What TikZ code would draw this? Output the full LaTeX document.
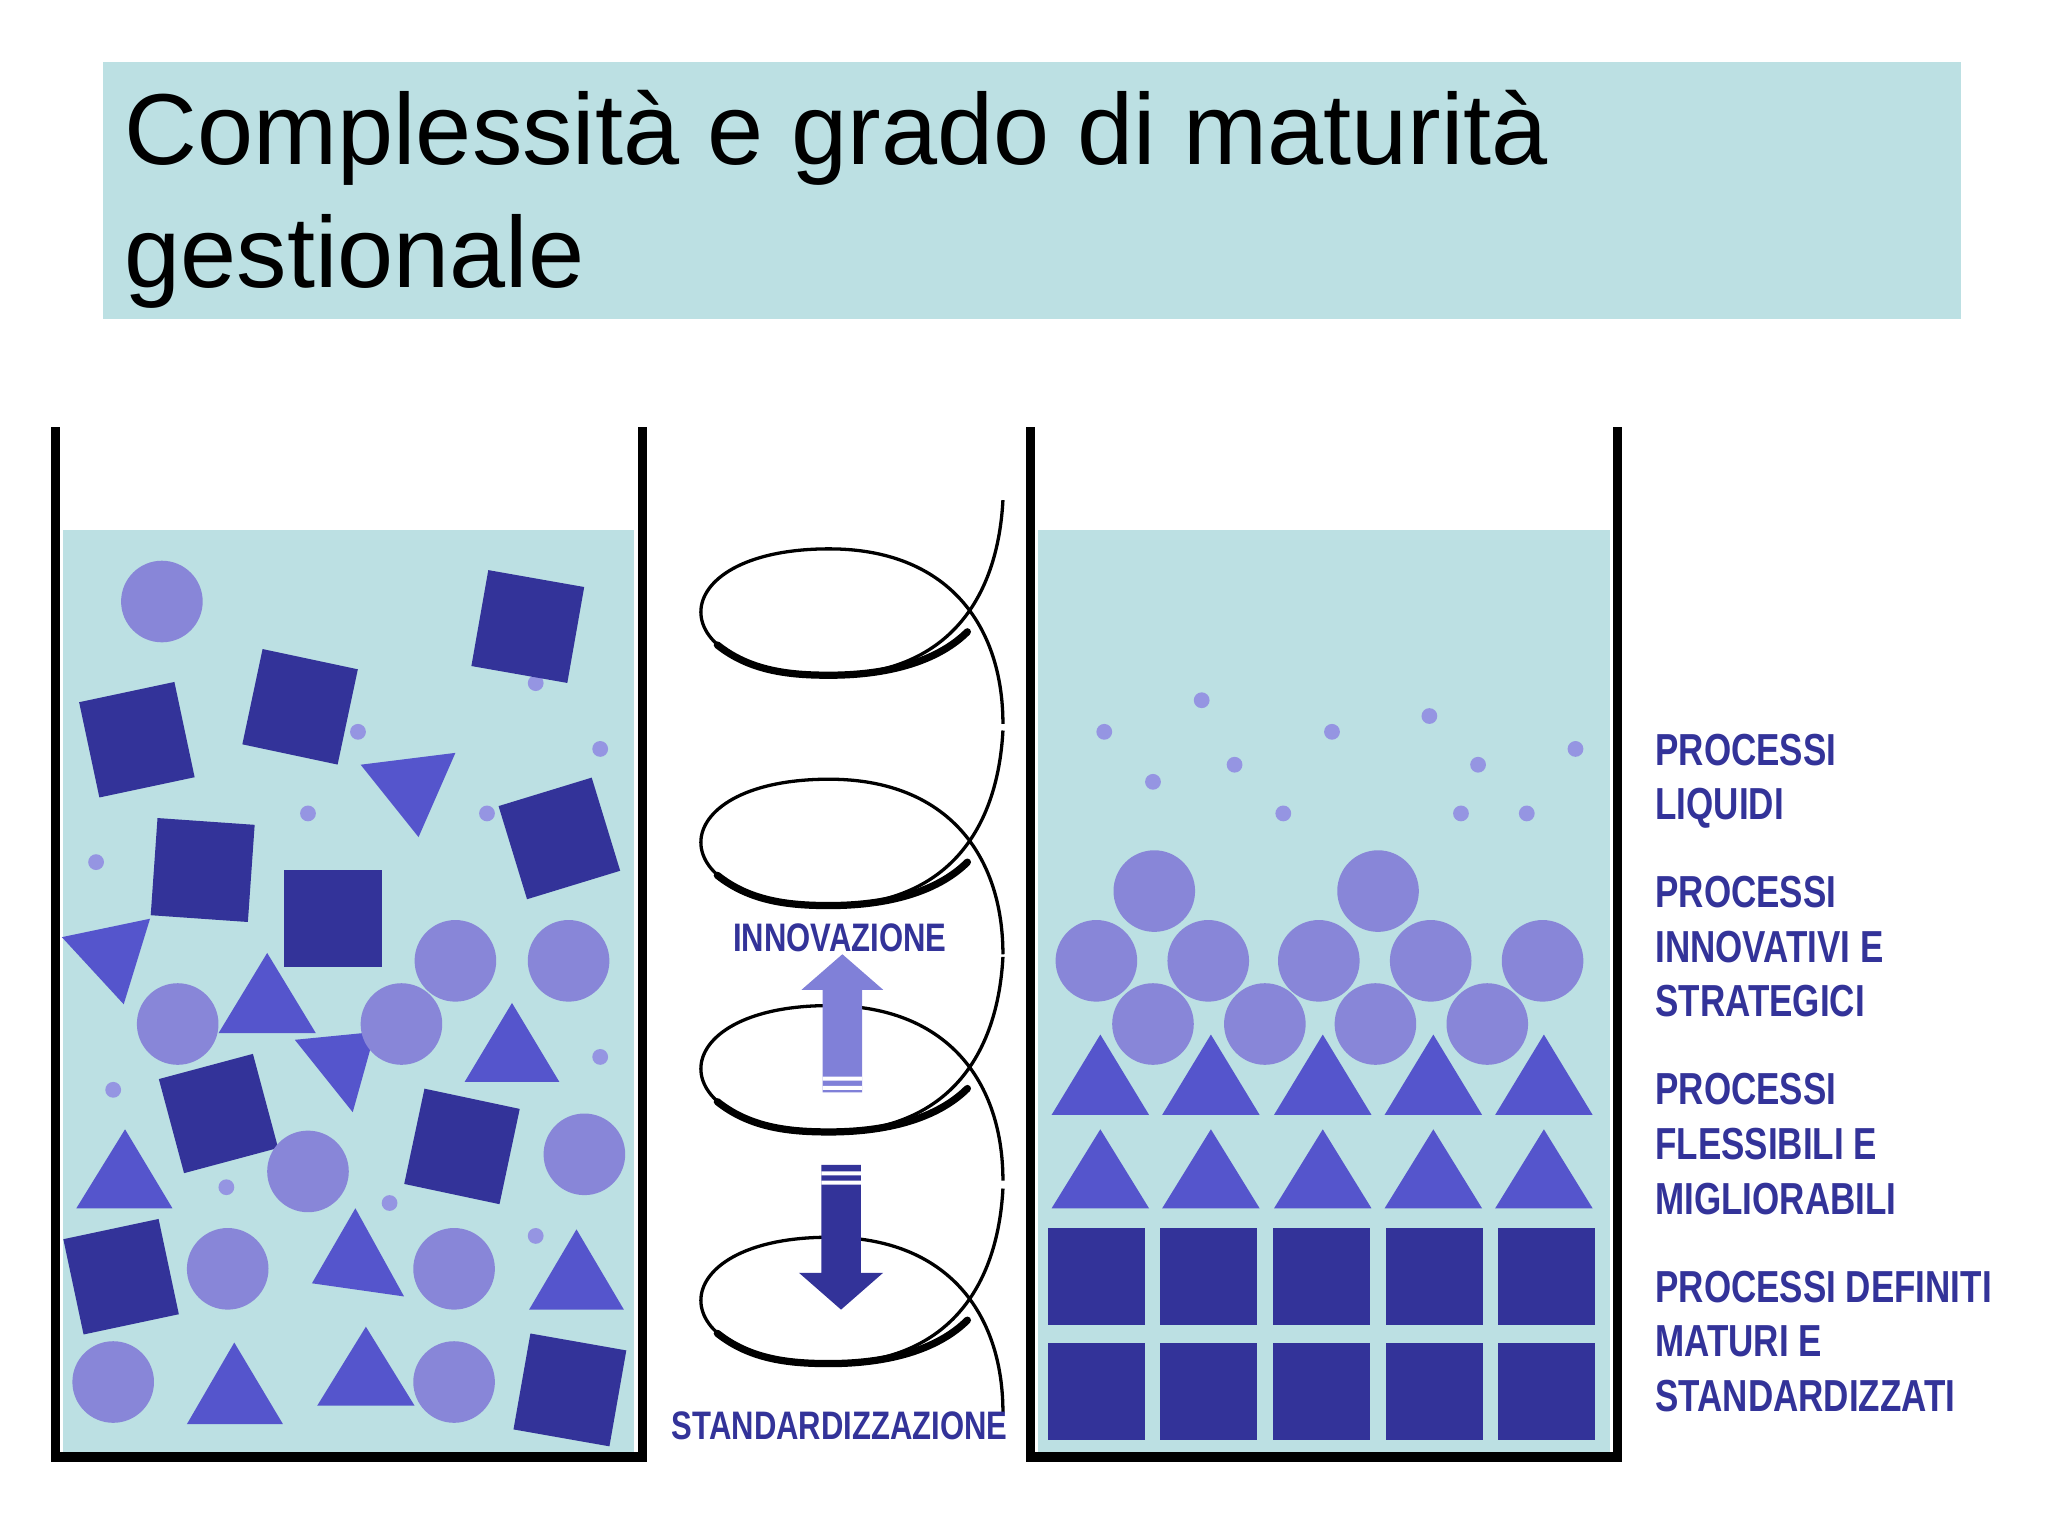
\documentclass[tikz,border=0pt]{standalone}
\usepackage{fontspec}
\setmainfont{Liberation Sans}
\usetikzlibrary{arrows.meta}
\definecolor{water}{HTML}{BCE0E3}
\definecolor{circc}{HTML}{8886D8}
\definecolor{sqc}{HTML}{333399}
\definecolor{tric}{HTML}{5555CC}
\definecolor{dotc}{HTML}{9595E2}
\definecolor{upc}{HTML}{8080D8}
\newcommand{\lbl}[1]{\scalebox{0.78}[1]{#1}}
\begin{document}
\begin{tikzpicture}[x=0.1mm,y=-0.1mm,
    circ/.style={circle, fill=circc, minimum size=6.2mm, inner sep=0pt},
    sqbox/.style={fill=sqc, minimum size=7.4mm, inner sep=0pt, rotate=#1},
    sqbox/.default=0,
    tri/.style={fill=tric},
    dotn/.style={circle, fill=dotc, minimum size=1.2mm, inner sep=0pt},
    wall/.style={line width=0.7mm, line cap=rect},
    lab/.style={anchor=north west, inner sep=0pt, align=left, text=sqc, font=\fontsize{9.7}{11.8}\selectfont\bfseries},
    midlab/.style={anchor=base, text=sqc, font=\fontsize{8.6}{10}\selectfont\bfseries},
  ]
  \useasboundingbox[fill=white] (0,0) rectangle (1556,1167);
  % title
  \fill[water] (78,47) rectangle (1490,242);
  \node[anchor=north west, inner sep=0pt, align=left, font=\fontsize{21.8}{26.5}\selectfont] (title) at (94,68)
    {Complessità e grado di maturità\\gestionale};
  % containers
  \fill[water] (48,403) rectangle (482,1103);
  \fill[water] (789,403) rectangle (1223,1103);
  \draw[wall] (42,328) -- (42,1107) -- (488,1107) -- (488,328);
  \draw[wall] (783,328) -- (783,1107) -- (1229,1107) -- (1229,328);
  % left: mixed shapes
  \foreach \x/\y in {407/519,272/556,456/569,234/618,370/618,73/655,456/803,86/828,172/902,296/914,407/939}
    \node[dotn] at (\x,\y) {};
  \foreach \x/\y/\r in {401/476/-10,104/562/12,228/537/-12,154/661/-4,253/698/0,425/637/17,166/846/15,351/871/-12,92/970/12,433/1056/-10}
    \node[sqbox=\r] at (\x,\y) {};
  \foreach \ax/\ay/\bx/\by/\cx/\cy in {274/581/346/572/318/636, 47/712/114/698/94/763, 224/790/285/784/268/845,
      203/724/166/785/240/785, 389/762/353/822/425/822, 95/858/58/918/131/918, 270/918/237/975/307/985,
      438/934/402/995/474/995, 178/1020/142/1082/215/1082, 278/1008/241/1068/315/1068}
    \fill[tri] (\ax,\ay) -- (\bx,\by) -- (\cx,\cy) -- cycle;
  \foreach \x/\y in {123/457,135/778,346/730,432/730,305/778,234/890,444/877,173/964,345/964,86/1050,345/1050}
    \node[circ] at (\x,\y) {};
  % right: ordered layers
  \foreach \x/\y in {913/532,839/556,1012/556,1086/544,876/594,938/581,1123/581,1197/569,975/618,1110/618,1160/618}
    \node[dotn] at (\x,\y) {};
  \foreach \x/\y in {877/677,1047/677,833/730,918/730,1002/730,1087/730,1172/730,876/778,961/778,1045/778,1130/778}
    \node[circ] at (\x,\y) {};
  \foreach \x in {836,920,1005,1089,1173}{
    \fill[tri] (\x,786) -- (\x-37,847) -- (\x+37,847) -- cycle;
    \fill[tri] (\x,858) -- (\x-37,918) -- (\x+37,918) -- cycle;
  }
  \foreach \x in {833,918,1004,1090,1175}{
    \node[sqbox] at (\x,970) {};
    \node[sqbox] at (\x,1057) {};
  }
  % spiral
  \foreach \yk in {465,640,812,988}{
    \draw[line width=0.25mm] (762,\yk-85) .. controls (758,\yk-10) and (720,\yk+48) .. (630,\yk+48)
      .. controls (500,\yk+48) and (500,\yk-48) .. (630,\yk-48)
      .. controls (720,\yk-48) and (762,\yk+10) .. (762,\yk+85);
    \draw[line width=0.55mm, line cap=round] (545,\yk+25) .. controls (570,\yk+45) and (600,\yk+48) .. (630,\yk+48)
      .. controls (680,\yk+48) and (715,\yk+35) .. (735,\yk+15);
  }
  % arrows
  \fill[upc] (625,830) -- (625,752) -- (609,752) -- (640,725) -- (671,752) -- (655,752) -- (655,830) -- cycle;
  \fill[white] (625,818) rectangle (655,821) (625,825) rectangle (655,828);
  \fill[sqc] (624,885) -- (624,967) -- (607,967) -- (639,995) -- (671,967) -- (654,967) -- (654,885) -- cycle;
  \fill[white] (624,890) rectangle (654,893) (624,897) rectangle (654,900);
  \node[midlab] (inno) at (638,723) {\lbl{INNOVAZIONE}};
  \node[midlab] (std) at (638,1094) {\lbl{STANDARDIZZAZIONE}};
  % labels
  \node[lab] (liq) at (1257,557) {\lbl{PROCESSI}\\\lbl{LIQUIDI}};
  \node[lab] (inn) at (1257,665) {\lbl{PROCESSI}\\\lbl{INNOVATIVI E}\\\lbl{STRATEGICI}};
  \node[lab] (fle) at (1257,815) {\lbl{PROCESSI}\\\lbl{FLESSIBILI E}\\\lbl{MIGLIORABILI}};
  \node[lab] (def) at (1257,965) {\lbl{PROCESSI DEFINITI}\\\lbl{MATURI E}\\\lbl{STANDARDIZZATI}};
\end{tikzpicture}
\end{document}
